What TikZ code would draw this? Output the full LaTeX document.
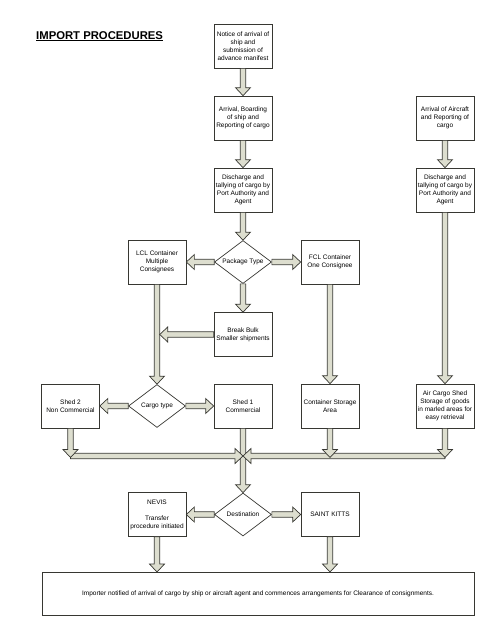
\documentclass[tikz,border=0pt]{standalone}
\usepackage{fontspec}
\setmainfont{Liberation Sans}
\usetikzlibrary{calc,shapes.geometric}
\definecolor{arrowfill}{RGB}{221,222,207}
\definecolor{edgegray}{RGB}{55,55,50}
\tikzset{
  fatarrow/.style={fill=arrowfill, draw=edgegray, line width=0.7pt, line join=miter},
  procbox/.style={draw=edgegray, line width=0.7pt, minimum width=58pt, minimum height=44pt,
    inner sep=1pt, align=center, font=\fontsize{6.5}{8}\selectfont},
  decision/.style={diamond, aspect=1.33, draw=edgegray, line width=0.7pt, minimum width=57pt,
    minimum height=43pt, inner sep=0pt, align=center, font=\fontsize{6.5}{8}\selectfont},
}
\newcommand{\blockarrow}[2]{%
  \path (#2) coordinate (ba-tip) ($(#2)!8pt!(#1)$) coordinate (ba-base);
  \draw[fatarrow] ($(#1)!2.7pt!90:(#2)$) -- ($(ba-base)!2.7pt!90:(ba-tip)$)
    -- ($(ba-base)!7.5pt!90:(ba-tip)$) -- (ba-tip) -- ($(ba-base)!7.5pt!-90:(ba-tip)$)
    -- ($(ba-base)!2.7pt!-90:(ba-tip)$) -- ($(#1)!2.7pt!-90:(#2)$) -- cycle;}
\begin{document}
\begin{tikzpicture}[x=1pt,y=-1pt]
\useasboundingbox (0,0) rectangle (495,640);
% title
\node[anchor=base west, inner sep=0pt, font=\fontsize{11.3}{13}\selectfont\bfseries] (title) at (36,39) {IMPORT PROCEDURES};
\draw[line width=0.9pt] ([yshift=-1.6pt]title.base west) -- ([yshift=-1.6pt]title.base east);
% boxes
\node[procbox] (notice) at (243,46) {Notice of arrival of\\ship and\\submission of\\advance manifest};
\node[procbox] (arrival) at (243,118) {Arrival, Boarding\\of ship and\\Reporting of cargo};
\node[procbox] (aircraft) at (445,118) {Arrival of Aircraft\\and Reporting of\\cargo};
\node[procbox] (discharge) at (243,190) {Discharge and\\tallying of cargo by\\Port Authority and\\Agent};
\node[procbox] (discharge2) at (445,190) {Discharge and\\tallying of cargo by\\Port Authority and\\Agent};
\node[decision] (package) at (243,262) {Package Type};
\node[procbox] (lcl) at (157,262) {LCL Container\\Multiple\\Consignees};
\node[procbox] (fcl) at (330,262) {FCL Container\\One Consignee};
\node[procbox] (breakbulk) at (243,334.5) {Break Bulk\\Smaller shipments};
\node[procbox] (shed2) at (70.5,406) {Shed 2\\Non Commercial};
\node[decision] (cargotype) at (157,406) {Cargo type};
\node[procbox] (shed1) at (243,406) {Shed 1\\Commercial};
\node[procbox] (storage) at (330,406) {Container Storage\\Area};
\node[procbox] (aircargo) at (445,406) {Air Cargo Shed\\Storage of goods\\in marled areas for\\easy retrieval};
\node[decision] (destination) at (243,514.5) {Destination};
\node[procbox] (nevis) at (157,514.5) {NEVIS\\[8pt]Transfer\\procedure initiated};
\node[procbox] (kitts) at (330,514.5) {SAINT KITTS};
\node[procbox, minimum width=432pt, minimum height=43pt] (importer) at (258,593.5) {Importer notified of arrival of cargo by ship or aircraft agent and commences arrangements for Clearance of consignments.};
% helper coordinates
\coordinate (lclshaft) at (159.7,334.5);
\coordinate (barL) at (70.5,456);
\coordinate (barC) at (243,456);
\coordinate (barS) at (330,456);
\coordinate (barR) at (445,456);
\coordinate (barLtip) at (70.5,457.5);
\coordinate (barStip) at (330,457.5);
\coordinate (barRtip) at (445,457.5);
\coordinate (nevisin) at (157,572);
\coordinate (kittsin) at (330,572);
% arrows
\blockarrow{notice.south}{arrival.north}
\blockarrow{arrival.south}{discharge.north}
\blockarrow{aircraft.south}{discharge2.north}
\blockarrow{discharge.south}{package.north}
\blockarrow{discharge2.south}{aircargo.north}
\blockarrow{package.west}{lcl.east}
\blockarrow{package.east}{fcl.west}
\blockarrow{package.south}{breakbulk.north}
\blockarrow{lcl.south}{cargotype.north}
\blockarrow{breakbulk.west}{lclshaft}
\blockarrow{cargotype.west}{shed2.east}
\blockarrow{cargotype.east}{shed1.west}
\blockarrow{fcl.south}{storage.north}
\blockarrow{shed1.south}{destination.north}
\blockarrow{barL}{barC}
\blockarrow{barR}{barC}
\blockarrow{shed2.south}{barLtip}
\blockarrow{storage.south}{barStip}
\blockarrow{aircargo.south}{barRtip}
\blockarrow{destination.west}{nevis.east}
\blockarrow{destination.east}{kitts.west}
\blockarrow{nevis.south}{nevisin}
\blockarrow{kitts.south}{kittsin}
\end{tikzpicture}
\end{document}
